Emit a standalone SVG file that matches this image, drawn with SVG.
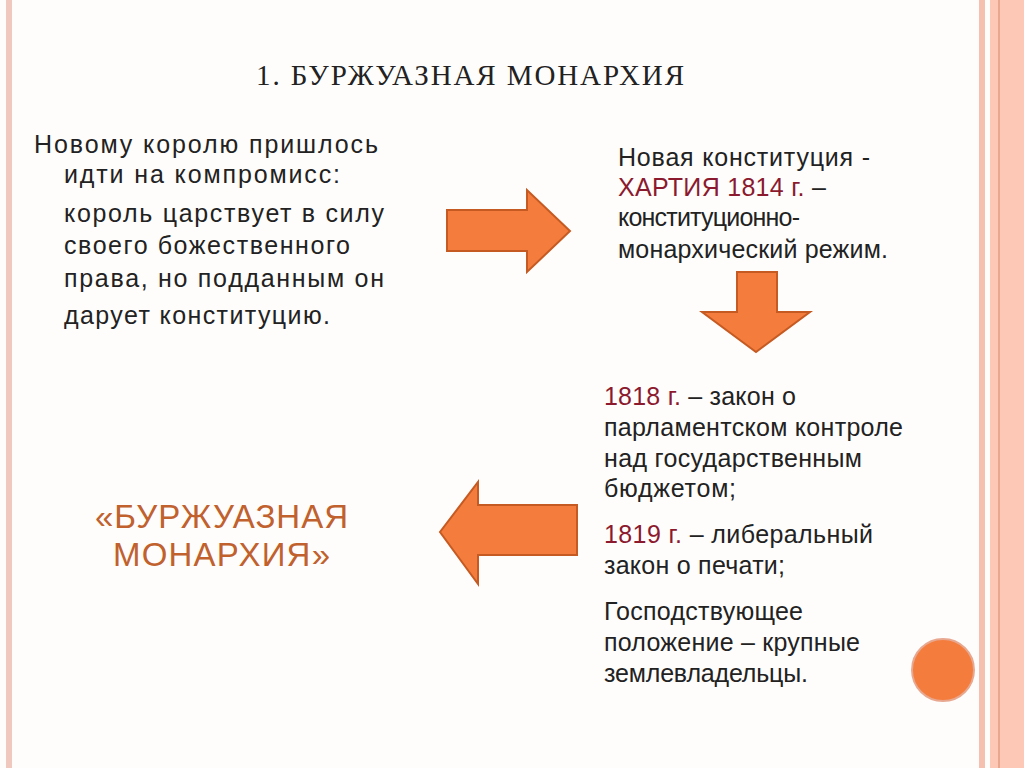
<svg xmlns="http://www.w3.org/2000/svg" width="1024" height="768" viewBox="0 0 1024 768">
<style>
.t{font-family:"Liberation Sans",Arial,sans-serif;font-size:25px;fill:#222}
.r{fill:#8b1a2e}
.arr{fill:#f47c3c;stroke:#c55a22;stroke-width:2}
.big{font-family:"Liberation Sans",Arial,sans-serif;font-size:33px;fill:#c0612e}
</style>
<rect width="1024" height="768" fill="#fffdfc"/>
<rect x="6" y="0" width="6" height="768" fill="#f0c8bd"/>
<rect x="979" y="0" width="6" height="768" fill="#f6c0b0"/>
<rect x="990" y="0" width="34" height="768" fill="#fdc9b6"/>
<rect x="998" y="0" width="2" height="768" fill="#e8a890"/>
<text x="256" y="85" textLength="428" lengthAdjust="spacing" style="font-family:'Liberation Serif',serif;font-size:29px;fill:#222">1. БУРЖУАЗНАЯ МОНАРХИЯ</text>
<g id="left-text">
<text x="34" y="153" class="t" textLength="344" lengthAdjust="spacing">Новому  королю пришлось</text>
<text x="64" y="183" class="t" textLength="276" lengthAdjust="spacing">идти на компромисс:</text>
<text x="64" y="222" class="t" textLength="320" lengthAdjust="spacing">король царствует в силу</text>
<text x="64" y="254" class="t" textLength="286" lengthAdjust="spacing">своего божественного</text>
<text x="64" y="287" class="t" textLength="320" lengthAdjust="spacing">права, но подданным  он</text>
<text x="64" y="324" class="t" textLength="266" lengthAdjust="spacing">дарует конституцию.</text>
</g>
<g id="charter">
<text x="618" y="166" class="t" textLength="252" lengthAdjust="spacing">Новая конституция  -</text>
<text x="618" y="196" class="t" textLength="208" lengthAdjust="spacing"><tspan class="r">ХАРТИЯ 1814 г.</tspan> –</text>
<text x="618" y="226" class="t" textLength="182" lengthAdjust="spacing">конституционно-</text>
<text x="618" y="258" class="t" textLength="270" lengthAdjust="spacing">монархический режим.</text>
</g>
<g id="laws">
<text x="604" y="405" class="t" textLength="192" lengthAdjust="spacing"><tspan class="r">1818 г.</tspan> – закон о</text>
<text x="604" y="436" class="t" textLength="299" lengthAdjust="spacing">парламентском контроле</text>
<text x="604" y="467" class="t" textLength="258" lengthAdjust="spacing">над государственным</text>
<text x="604" y="497" class="t" textLength="132" lengthAdjust="spacing">бюджетом;</text>
<text x="604" y="543" class="t" textLength="269" lengthAdjust="spacing"><tspan class="r">1819 г.</tspan> – либеральный</text>
<text x="604" y="574" class="t" textLength="181" lengthAdjust="spacing">закон о печати;</text>
<text x="604" y="620" class="t" textLength="199" lengthAdjust="spacing">Господствующее</text>
<text x="604" y="651" class="t" textLength="256" lengthAdjust="spacing">положение – крупные</text>
<text x="604" y="682" class="t" textLength="204" lengthAdjust="spacing">землевладельцы.</text>
</g>
<g id="result">
<text x="95" y="528" class="big" textLength="253" lengthAdjust="spacing">«БУРЖУАЗНАЯ</text>
<text x="113" y="566" class="big" textLength="217" lengthAdjust="spacing">МОНАРХИЯ»</text>
</g>
<g id="connectors">
<polygon class="arr" points="447,210 527,210 527,190 570,231 527,272 527,251 447,251"/>
<polygon class="arr" points="737,272 777,272 777,312 810,312 756,352 702,312 737,312"/>
<polygon class="arr" points="577,505 478,505 478,482 440,532 478,584 478,555 577,555"/>
</g>
<circle cx="943" cy="670" r="31" fill="#f47c3c" stroke="#e8a890" stroke-width="2"/>
</svg>
